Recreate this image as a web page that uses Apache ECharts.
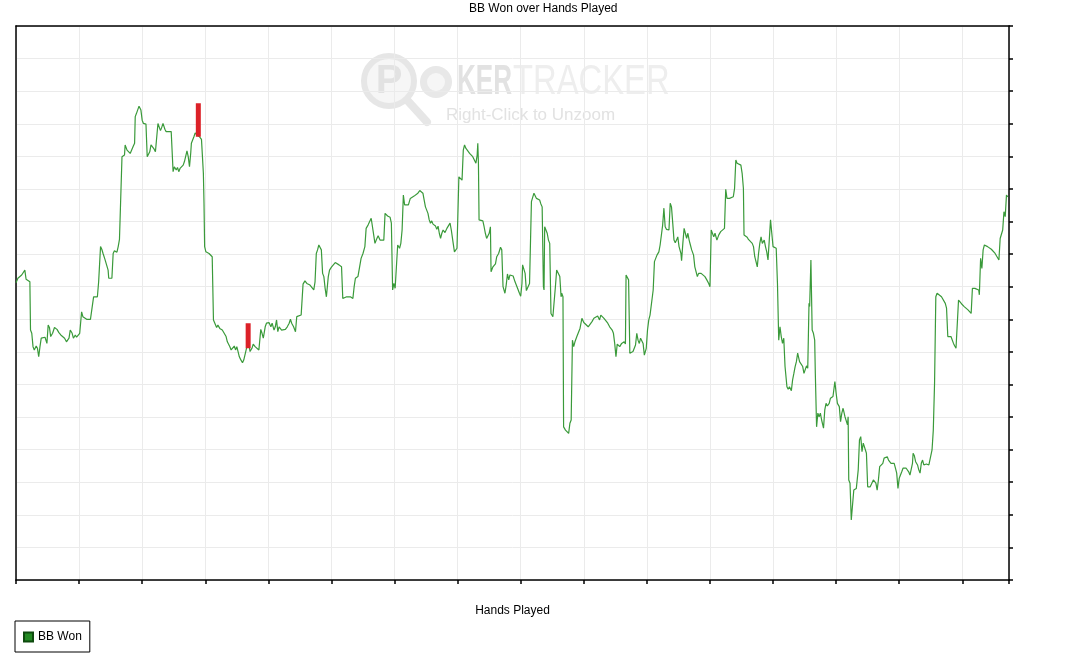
<!DOCTYPE html>
<html>
<head>
<meta charset="utf-8">
<script src="https://cdn.jsdelivr.net/npm/echarts@6/dist/echarts.min.js"></script>
<style>
html,body{margin:0;padding:0;background:#fff;}
#chart{width:1077px;height:665px;}
</style>
</head>
<body>
<div id="chart"></div>
<script>
// Hands played (x) and cumulative BB won (y)
const hands = [
0,3,6,9,11,14,16,19,22,23,
25,27,29,32,34,36,38,40,43,46,
49,51,53,55,58,61,65,68,71,74,
77,80,84,86,89,91,94,96,99,101,
104,106,109,112,115,118,120,123,126,129,
131,134,136,138,141,144,146,147,149,152,
154,156,160,162,164,166,168,170,172,173,
176,179,181,184,186,188,189,191,193,195,
198,200,202,204,206,208,210,212,214,217,
219,221,223,225,227,229,231,233,236,238,
242,246,248,249,251,254,256,258,260,263,
265,267,269,271,273,275,277,278,280,282,
284,287,291,294,296,297,298,299,301,306,
311,313,316,318,320,323,327,330,333,335,
337,339,341,344,346,348,350,352,354,356,
359,361,364,366,369,371,374,376,379,382,
385,388,390,392,395,397,401,404,406,409,
411,413,415,417,421,424,427,430,433,435,
437,440,443,445,448,452,455,458,461,464,
466,469,472,474,476,478,480,482,484,486,
488,490,492,495,497,500,503,506,509,512,
516,518,521,524,530,534,536,538,540,542,
544,547,550,553,555,558,560,563,565,569,
571,574,577,580,583,585,589,593,595,597,
599,601,603,605,608,610,612,614,616,619,
622,625,628,631,634,637,640,642,645,647,
649,651,653,655,657,659,661,665,667,669,
671,673,675,677,680,683,686,688,690,693,
695,697,699,702,704,707,709,711,713,715,
719,722,724,727,729,731,732,733,734,737,
740,742,744,746,748,750,752,753,756,760,
762,765,768,770,772,775,777,779,781,783,
785,788,791,795,798,800,802,803,805,807,
809,811,814,815,817,819,821,823,825,827,
830,832,834,836,837,838,840,842,844,846,
848,851,853,855,857,860,862,864,865,867,
868,871,874,876,878,880,882,884,886,889,
891,894,897,900,903,907,910,913,916,919,
922,925,927,930,932,935,938,941,945,947,
949,951,953,955,957,960,964,966,967,969,
971,973,976,978,982,984,986,988,990,992,
994,996,999,1001,1003,1005,1008,1010,1012,1014,
1016,1019,1021,1023,1025,1027,1029,1031,1035,1037,
1039,1041,1043,1045,1047,1049,1051,1054,1055,1057,
1059,1061,1063,1065,1067,1069,1071,1074,1076,1078,
1080,1082,1084,1086,1088,1092,1095,1098,1100,1102,
1104,1106,1108,1111,1114,1117,1120,1123,1125,1127,
1131,1134,1137,1139,1141,1143,1146,1149,1151,1153,
1154,1156,1159,1161,1163,1167,1169,1171,1173,1175,
1177,1179,1181,1183,1186,1188,1190,1192,1194,1196,
1198,1200,1203,1205,1207,1209,1211,1213,1215,1217,
1219,1222,1224,1226,1229,1231,1233,1235,1237,1239,
1242,1245,1247,1249,1251,1253,1255,1257,1258,1260,
1261,1262,1264,1266,1267,1269,1271,1273,1275,1277,
1280,1282,1284,1286,1289,1291,1293,1295,1298,1300,
1302,1305,1307,1309,1311,1314,1316,1318,1319,1320,
1322,1324,1326,1328,1330,1332,1335,1337,1339,1341,
1343,1346,1348,1350,1354,1357,1359,1361,1363,1365,
1367,1369,1371,1374,1376,1378,1381,1383,1385,1387,
1390,1392,1394,1396,1398,1400,1402,1404,1406,1409,
1411,1413,1415,1417,1419,1421,1422,1424,1426,1429,
1431,1433,1435,1437,1439,1441,1443,1447,1450,1452,
1454,1456,1458,1460,1463,1467,1470,1473,1475,1477,
1479,1482,1484,1486,1488,1490,1492,1494,1496,1499,
1503,1506,1509,1512,1514,1516,1520,1523,1526,1527,
1529,1531,1533,1535,1537,1540,1543,1546,1549,1552,
1555,1558,1560,1562,1564,1566,1568,1570,1572
];
const bbWon = [
1.2,2.6,2.3,3.6,3.1,5.1,2.3,2.1,1.5,-13.3,
-14.3,-18.4,-19.4,-18.2,-18.9,-21.5,-18.4,-15.8,-16.1,-15.5,
-17.4,-11.8,-12.5,-15.3,-14.3,-12.5,-13.1,-14.1,-14.8,-15.3,
-15.8,-16.9,-15.8,-13.3,-14.3,-15.8,-14.8,-15.5,-15.1,-14.3,
-7.7,-9.2,-9.0,-10.0,-9.4,-10.0,-10.2,-3.1,-2.9,-3.1,
1.5,12.3,11.5,10.2,8.4,8.0,5.1,2.6,2.1,2.6,
10.2,11.0,10.6,12.3,14.5,14.8,39.9,39.4,40.4,43.5,
41.9,41.4,40.9,41.4,43.2,44.0,52.2,53.2,53.0,55.4,
54.2,51.1,50.1,50.3,49.9,39.9,40.1,41.4,43.5,43.2,
42.2,41.4,41.9,50.1,49.9,47.9,48.9,50.1,48.3,47.6,
47.6,47.6,47.1,35.3,36.8,35.8,36.6,35.3,36.3,36.0,
37.3,38.4,38.9,41.7,39.9,36.8,41.1,44.0,44.5,46.0,
47.2,46.5,46.0,45.2,45.0,34.8,25.6,12.3,10.7,10.2,
9.2,-10.2,-10.7,-12.5,-11.8,-12.8,-13.3,-13.8,-15.3,-16.9,
-17.4,-18.4,-19.4,-18.9,-18.2,-19.4,-18.4,-19.9,-21.5,-22.3,
-23.3,-22.5,-22.3,-18.4,-17.4,-19.9,-18.9,-17.6,-18.4,-18.9,
-19.4,-13.1,-14.3,-15.8,-12.3,-11.2,-11.0,-12.3,-11.2,-13.3,
-12.3,-10.2,-13.8,-12.3,-13.3,-13.8,-13.1,-12.3,-11.2,-10.0,
-11.2,-12.3,-13.8,-9.2,-8.7,-8.7,0.8,1.8,1.0,1.2,
0.5,0.8,-1.0,1.5,10.2,11.3,12.8,12.8,11.3,4.1,
3.1,-0.5,-3.1,3.1,5.1,6.0,5.6,7.4,7.4,6.7,
6.1,-3.6,-3.3,-3.1,-3.1,-3.6,0,2.6,2.1,3.1,
2.6,8.7,10.2,12.3,17.9,18.9,19.5,21.0,20.5,13.3,
14.3,15.6,14.3,14.5,14.3,22.5,21.7,21.3,19.5,-1.0,
1.0,-0.5,-1.0,12.8,11.8,13.3,17.4,28.1,25.1,25.1,
25.1,27.1,27.6,27.8,27.6,28.7,29.5,29.7,28.7,26.6,
24.5,24.4,22.5,20.5,19.5,20.2,19.2,18.6,17.6,18.6,
16.4,14.8,16.4,17.4,16.6,17.9,18.4,19.5,17.4,13.3,
10.7,11.3,11.8,33.7,33.3,32.7,41.9,43.5,42.5,41.9,
40.9,41.1,39.9,39.4,37.9,40.4,44.0,37.9,20.5,19.9,
20.2,18.4,16.4,14.8,14.3,16.4,18.4,4.6,6.1,7.0,
9.2,10.2,12.1,11.3,0,-2.0,0.5,3.9,2.1,3.6,
4.1,3.3,1.5,-0.5,-2.0,-2.9,1.0,6.7,6.1,4.1,
-1.2,-1.5,1.0,1.5,26.1,26.1,28.7,28.8,27.1,27.6,
26.6,25.4,24.5,0,-1.0,18.4,17.9,16.4,14.3,13.3,
-8.2,-9.2,-9.2,0,5.1,4.6,3.1,-3.1,-2.0,-3.1,
-43.0,-44.0,-44.5,-45.0,-41.9,-40.9,-16.4,-18.4,-16.9,-15.3,
-15.8,-12.8,-9.7,-11.0,-10.7,-12.3,-12.1,-10.7,-9.7,-9.2,
-9.0,-10.2,-8.7,-8.4,-9.7,-10.2,-11.2,-12.3,-13.3,-14.3,
-17.4,-21.5,-17.6,-17.4,-18.4,-17.4,-16.9,-17.6,3.6,3.1,
2.1,-20.4,-21.0,-19.9,-17.9,-14.3,-16.4,-17.4,-15.8,-16.4,
-17.4,-21.0,-18.9,-13.3,-10.2,-8.7,-8.2,-1.0,7.7,8.7,
9.7,10.7,12.8,12.3,18.9,24.1,18.4,17.6,17.4,25.6,
24.5,19.5,14.3,13.5,14.3,15.3,12.3,10.2,8.0,13.3,
17.9,16.4,14.8,16.4,14.3,12.8,11.3,9.7,6.1,6.7,
3.1,4.1,4.6,4.1,3.6,3.1,2.1,1.0,0,17.4,
16.9,15.3,16.4,14.3,15.9,16.9,17.2,17.9,29.9,27.1,
27.1,27.4,27.6,30.2,38.9,37.9,38.0,37.3,34.8,30.2,
15.9,15.3,15.2,14.5,14.3,13.3,12.3,9.2,7.7,6.1,
10.2,13.3,15.3,13.3,14.3,12.3,10.7,8.2,14.3,20.5,
16.4,12.3,12.5,11.8,1.0,-16.4,-12.3,-15.3,-17.4,-15.8,
-24.5,-30.7,-31.5,-30.7,-31.9,-28.6,-26.6,-24.5,-23.0,-20.4,
-23.0,-23.3,-24.5,-26.6,-27.1,-24.3,-25.0,-5.1,-6.1,8.2,
8.2,-13.3,-14.3,-16.4,-26.6,-43.0,-38.8,-39.9,-38.8,-40.9,
-43.4,-37.8,-35.8,-36.6,-35.8,-34.2,-33.7,-33.7,-29.1,-32.7,
-35.8,-36.8,-41.4,-38.8,-37.3,-39.9,-40.4,-42.4,-39.9,-59.3,
-60.3,-71.6,-72.1,-62.4,-62.9,-61.9,-56.2,-47.0,-46.0,-50.6,
-48.0,-48.0,-51.1,-61.4,-61.4,-60.8,-59.3,-58.8,-60.3,-62.4,
-59.3,-55.2,-54.7,-54.2,-52.6,-52.2,-52.2,-53.2,-53.7,-54.2,
-54.7,-54.2,-55.7,-57.2,-61.9,-58.8,-57.8,-56.8,-55.7,-55.2,
-55.7,-56.2,-56.8,-57.8,-58.3,-54.2,-51.1,-51.9,-53.7,-54.7,
-56.2,-57.2,-54.2,-53.2,-54.7,-54.7,-54.4,-54.7,-54.2,-50.1,
-44.0,-29.6,-3.1,-2.0,-2.5,-3.1,-3.1,-5.1,-6.6,-15.3,
-15.8,-15.3,-15.8,-17.4,-18.2,-18.9,-18.4,-4.1,-4.6,-5.3,
-6.1,-6.6,-7.1,-7.1,-8.2,-0.5,-0.5,-0.2,-1.0,-2.5,
8.7,5.6,11.3,12.8,13.3,12.3,11.8,11.5,11.3,10.2,
9.2,8.2,14.8,15.2,17.4,23.0,21.5,28.1,27.6
];
// Red markers (hand, low BB, high BB)
const markerHands = [289, 368];
const markerLow = [46.0, -18.9];
const markerHigh = [56.3, -11.2];

// Axis settings (labels are blank in the source)
const xMin = 0, xMax = 1574, xStep = 100;
const yMin = -90, yMax = 80, yStep = 10;

const chart = echarts.init(document.getElementById('chart'), null, {renderer: 'canvas'});
const n = Math.min(hands.length, bbWon.length);
const lineData = [];
for (let i = 0; i < n; i++) lineData.push([hands[i], bbWon[i]]);

const markerSeries = markerHands.map((h, i) => ({
  type: 'line', name: 'marker' + i, xAxisIndex: 0, yAxisIndex: 0,
  data: [[h, markerLow[i]], [h, markerHigh[i]]],
  showSymbol: false, silent: true, animation: false, z: 5,
  lineStyle: {color: '#dc2128', width: 5, cap: 'butt'}
}));

const font = 'Liberation Sans, Arial, sans-serif';
chart.setOption({
  animation: false,
  backgroundColor: '#ffffff',
  title: {
    text: 'BB Won over Hands Played', left: 469, top: 3, padding: 0,
    textStyle: {fontSize: 12, fontWeight: 'normal', color: '#000', fontFamily: font}
  },
  legend: {
    data: ['BB Won'], left: 15, top: 621, orient: 'horizontal',
    borderColor: '#000', borderWidth: 1, borderRadius: 0,
    padding: [10, 8, 9, 8], itemWidth: 9, itemHeight: 9, itemGap: 5, icon: 'rect',
    textStyle: {fontSize: 12, color: '#000', fontFamily: font}
  },
  grid: {left: 16, right: 68, top: 26, bottom: 85, containLabel: false},
  graphic: [
    {type: 'circle', shape: {cx: 389, cy: 81, r: 25}, style: {fill: '#f6f6f6', stroke: '#e6e6e6', lineWidth: 6}, z: -1, silent: true},
    {type: 'line', shape: {x1: 407, y1: 100, x2: 427, y2: 122}, style: {stroke: '#e6e6e6', lineWidth: 8, lineCap: 'round'}, z: -1, silent: true},
    {type: 'text', x: 389, y: 82, style: {text: 'P', font: 'bold 40px ' + font, fill: '#e2e2e2', align: 'center', verticalAlign: 'middle'}, z: -1, silent: true},
    {type: 'circle', shape: {cx: 436, cy: 82, r: 16}, style: {fill: '#e8e8e8'}, z: -1, silent: true},
    {type: 'circle', shape: {cx: 436, cy: 82, r: 9}, style: {fill: '#f6f6f6'}, z: -1, silent: true},
    {type: 'text', x: 457, y: 82, scaleX: 0.62, style: {text: 'KER', font: 'bold 42px ' + font, fill: '#e2e2e2', align: 'left', verticalAlign: 'middle'}, z: -1, silent: true},
    {type: 'text', x: 513, y: 82, scaleX: 0.78, style: {text: 'TRACKER', font: '42px ' + font, fill: '#eeeeee', align: 'left', verticalAlign: 'middle'}, z: -1, silent: true},
    {type: 'text', x: 446, y: 115, style: {text: 'Right-Click to Unzoom', font: '17px ' + font, fill: '#e2e2e2', align: 'left', verticalAlign: 'middle'}, z: -1, silent: true}
  ],
  xAxis: [
    {
      type: 'value', position: 'bottom', min: xMin, max: xMax, interval: xStep,
      name: 'Hands Played', nameLocation: 'middle', nameGap: 25,
      nameTextStyle: {fontSize: 12, color: '#000', fontFamily: font},
      axisLine: {show: true, onZero: false, lineStyle: {color: '#000', width: 1.5}},
      axisTick: {show: true, inside: false, length: 4, lineStyle: {color: '#000', width: 1.5}},
      axisLabel: {show: false},
      splitLine: {show: true, lineStyle: {color: '#ebebeb', width: 1}}
    },
    {
      type: 'value', position: 'top', min: xMin, max: xMax, interval: xStep,
      axisLine: {show: true, onZero: false, lineStyle: {color: '#000', width: 1.5}},
      axisTick: {show: false}, axisLabel: {show: false}, splitLine: {show: false}
    }
  ],
  yAxis: [
    {
      type: 'value', position: 'right', min: yMin, max: yMax, interval: yStep,
      axisLine: {show: true, onZero: false, lineStyle: {color: '#000', width: 1.5}},
      axisTick: {show: true, inside: false, length: 4, lineStyle: {color: '#000', width: 1.5}},
      axisLabel: {show: false},
      splitLine: {show: true, lineStyle: {color: '#ebebeb', width: 1}}
    },
    {
      type: 'value', position: 'left', min: yMin, max: yMax, interval: yStep,
      axisLine: {show: true, onZero: false, lineStyle: {color: '#000', width: 1.5}},
      axisTick: {show: false}, axisLabel: {show: false}, splitLine: {show: false}
    }
  ],
  series: [
    {
      type: 'line', name: 'BB Won', xAxisIndex: 0, yAxisIndex: 0,
      data: lineData, showSymbol: false, symbol: 'none', z: 3,
      lineStyle: {color: '#3a9a3a', width: 1.2},
      itemStyle: {color: '#238a23', borderColor: '#0e4a0e', borderWidth: 1}
    }
  ].concat(markerSeries)
});
</script>
</body>
</html>
